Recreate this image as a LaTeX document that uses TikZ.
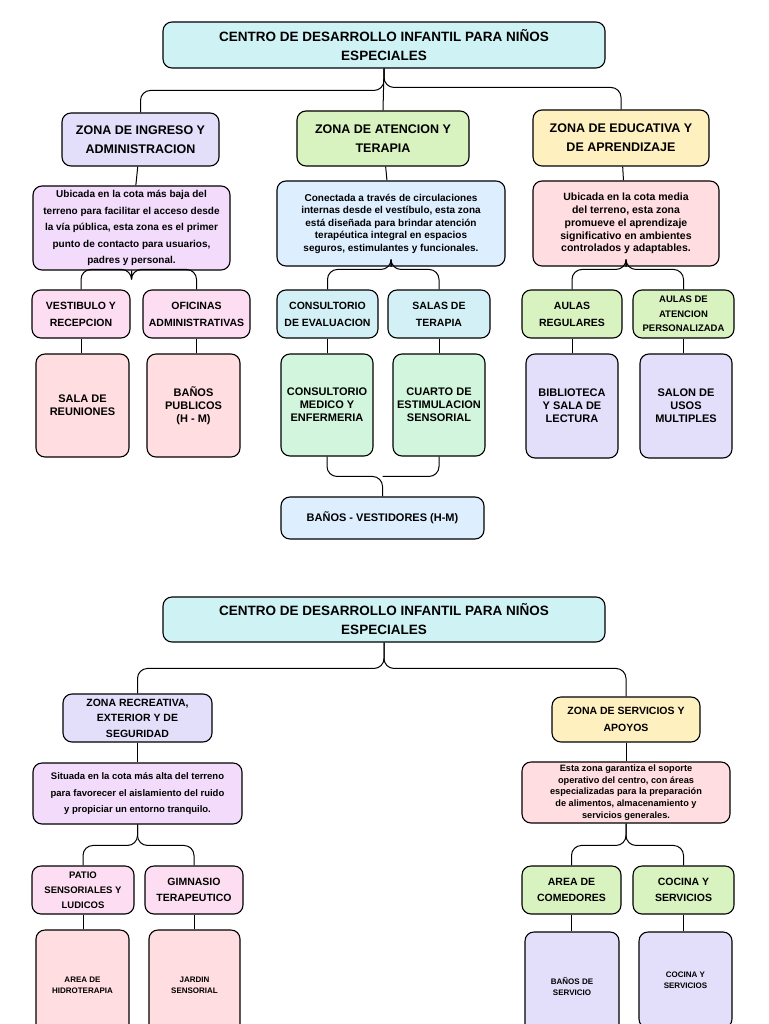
\documentclass[tikz,border=0pt]{standalone}
\usepackage{fontspec}
\setmainfont{Liberation Sans}
\usetikzlibrary{calc}
\definecolor{cCyan}{HTML}{CFF2F5}
\definecolor{cLav}{HTML}{E3DFFB}
\definecolor{cGreen}{HTML}{D8F2C0}
\definecolor{cYel}{HTML}{FFF0C0}
\definecolor{cPur}{HTML}{F3DBFB}
\definecolor{cBlue}{HTML}{DDEEFF}
\definecolor{cPink}{HTML}{FFDDE0}
\definecolor{cRose}{HTML}{FDDDF2}
\definecolor{cTeal}{HTML}{D2F0F5}
\definecolor{cMint}{HTML}{D2F6DD}
\tikzset{
 bx/.style={draw=black,line width=1.1pt,rounded corners=9pt,align=center,font=\bfseries,inner sep=1pt},
 conn/.style={draw=black,line width=1pt,rounded corners=10pt},
}
\newcommand{\bxat}[7]{\node[bx,fill=#6,minimum width={#3-#2},minimum height={#5-#4},font=\bfseries#7] (#1) at ({(#2+#3)/2},{(#4+#5)/2})}
\begin{document}
\begin{tikzpicture}[x=1pt,y=-1pt]
\path[use as bounding box,clip] (0,0) rectangle (768,1024);
\fill[white] (0,0) rectangle (768,1024);
% ---------- top section
\bxat{t1}{163}{605}{22}{68}{cCyan}{\fontsize{13.5}{19}\selectfont}{CENTRO DE DESARROLLO INFANTIL PARA NIÑOS\\ESPECIALES};
\bxat{z1}{62}{219}{113}{166}{cLav}{\fontsize{12.5}{19}\selectfont}{ZONA DE INGRESO Y\\ADMINISTRACION};
\bxat{z2}{297}{469}{111}{166}{cGreen}{\fontsize{12.5}{19}\selectfont}{ZONA DE ATENCION Y\\TERAPIA};
\bxat{z3}{533}{709}{110}{166}{cYel}{\fontsize{12.5}{19}\selectfont}{ZONA DE EDUCATIVA Y\\DE APRENDIZAJE};
\bxat{d1}{33}{230}{186}{270}{cPur}{\fontsize{10}{16.5}\selectfont}{Ubicada en la cota más baja del\\terreno para facilitar el acceso desde\\la vía pública, esta zona es el primer\\punto de contacto para usuarios,\\padres y personal.};
\bxat{d2}{277}{505}{181}{266}{cBlue}{\fontsize{10}{12.5}\selectfont}{Conectada a través de circulaciones\\internas desde el vestíbulo, esta zona\\está diseñada para brindar atención\\terapéutica integral en espacios\\seguros, estimulantes y funcionales.};
\bxat{d3}{533}{719}{181}{266}{cPink}{\fontsize{10.5}{12.8}\selectfont}{Ubicada en la cota media\\del terreno, esta zona\\promueve el aprendizaje\\significativo en ambientes\\controlados y adaptables.};
\bxat{a1}{32}{130}{290}{338}{cRose}{\fontsize{10.5}{17}\selectfont}{VESTIBULO Y\\RECEPCION};
\bxat{a2}{143}{250}{290}{338}{cRose}{\fontsize{10.5}{17}\selectfont}{OFICINAS\\ADMINISTRATIVAS};
\bxat{a3}{277}{378}{290}{338}{cTeal}{\fontsize{10.5}{17}\selectfont}{CONSULTORIO\\DE EVALUACION};
\bxat{a4}{388}{490}{290}{338}{cTeal}{\fontsize{10.5}{17}\selectfont}{SALAS DE\\TERAPIA};
\bxat{a5}{522}{622}{290}{338}{cGreen}{\fontsize{10.5}{17}\selectfont}{AULAS\\REGULARES};
\bxat{a6}{633}{734}{290}{338}{cGreen}{\fontsize{9.5}{14.5}\selectfont}{AULAS DE\\ATENCION\\PERSONALIZADA};
\bxat{b1}{36}{129}{354}{457}{cPink}{\fontsize{11}{13}\selectfont}{SALA DE\\REUNIONES};
\bxat{b2}{147}{240}{354}{457}{cPink}{\fontsize{11}{13}\selectfont}{BAÑOS\\PUBLICOS\\(H - M)};
\bxat{b3}{281}{373}{354}{456}{cMint}{\fontsize{11}{13}\selectfont}{CONSULTORIO\\MEDICO Y\\ENFERMERIA};
\bxat{b4}{393}{485}{354}{456}{cMint}{\fontsize{11}{13}\selectfont}{CUARTO DE\\ESTIMULACION\\SENSORIAL};
\bxat{b5}{526}{618}{354}{458}{cLav}{\fontsize{11}{13}\selectfont}{BIBLIOTECA\\Y SALA DE\\LECTURA};
\bxat{b6}{640}{732}{354}{458}{cLav}{\fontsize{11}{13}\selectfont}{SALON DE\\USOS\\MULTIPLES};
\bxat{v1}{281}{484}{497}{539}{cBlue}{\fontsize{11}{13}\selectfont}{BAÑOS - VESTIDORES (H-M)};
% connectors top
\path[conn] (t1.south) |- ([yshift=22]z1.north) -- (z1.north);
\path[conn] (t1.south) |- ([yshift=22]z3.north) -- (z3.north);
\path[conn] (t1.south) -- (z2.north);
\path[conn] (z1) -- (d1); \path[conn] (z2) -- (d2); \path[conn] (z3) -- (d3);
\foreach \p/\c in {d1/a1,d1/a2,d2/a3,d2/a4,d3/a5,d3/a6}
  \path[conn] (\p.south) |- ([yshift=20]\c.north) -- (\c.north);
\foreach \p/\c in {a1/b1,a2/b2,a3/b3,a4/b4,a5/b5,a6/b6}
  \path[conn] (\p.south) -- (\p.south|-\c.north);
\path[conn] (b3.south) |- ([yshift=20]v1.north) -- (v1.north);
\path[conn] (b4.south) |- ([yshift=20]v1.north);
% ---------- bottom section
\bxat{t2}{163}{605}{597}{642}{cCyan}{\fontsize{13.5}{19}\selectfont}{CENTRO DE DESARROLLO INFANTIL PARA NIÑOS\\ESPECIALES};
\bxat{y1}{63}{212}{694}{742}{cLav}{\fontsize{10.5}{15.5}\selectfont}{ZONA RECREATIVA,\\EXTERIOR Y DE\\SEGURIDAD};
\bxat{y2}{552}{700}{697}{742}{cYel}{\fontsize{10.5}{17}\selectfont}{ZONA DE SERVICIOS Y\\APOYOS};
\bxat{e1}{33}{242}{763}{824}{cPur}{\fontsize{9.5}{16.5}\selectfont}{Situada en la cota más alta del terreno\\para favorecer el aislamiento del ruido\\y propiciar un entorno tranquilo.};
\bxat{e2}{522}{730}{762}{823}{cPink}{\fontsize{9.2}{11.8}\selectfont}{Esta zona garantiza el soporte\\operativo del centro, con áreas\\especializadas para la preparación\\de alimentos, almacenamiento y\\servicios generales.};
\bxat{f1}{32}{134}{866}{914}{cRose}{\fontsize{9.5}{15}\selectfont}{PATIO\\SENSORIALES Y\\LUDICOS};
\bxat{f2}{145}{243}{866}{914}{cRose}{\fontsize{10.5}{16.5}\selectfont}{GIMNASIO\\TERAPEUTICO};
\bxat{f3}{522}{621}{866}{914}{cGreen}{\fontsize{10.5}{16.5}\selectfont}{AREA DE\\COMEDORES};
\bxat{f4}{633}{734}{866}{914}{cGreen}{\fontsize{10.5}{16.5}\selectfont}{COCINA Y\\SERVICIOS};
\bxat{g1}{36}{129}{930}{1040}{cPink}{\fontsize{8}{11}\selectfont}{AREA DE\\HIDROTERAPIA};
\bxat{g2}{149}{240}{930}{1040}{cPink}{\fontsize{8}{11}\selectfont}{JARDIN\\SENSORIAL};
\bxat{g3}{525}{619}{932}{1040}{cLav}{\fontsize{8}{11}\selectfont}{BAÑOS DE\\SERVICIO};
\bxat{g4}{639}{732}{932}{1028}{cLav}{\fontsize{8}{11}\selectfont}{COCINA Y\\SERVICIOS};
\path[conn] (t2.south) |- ([yshift=25]y1.north) -- (y1.north);
\path[conn] (t2.south) |- ([yshift=28]y2.north) -- (y2.north);
\path[conn] (y1) -- (e1); \path[conn] (y2) -- (e2);
\foreach \p/\c in {e1/f1,e1/f2,e2/f3,e2/f4}
  \path[conn] (\p.south) |- ([yshift=20]\c.north) -- (\c.north);
\foreach \p/\c in {f1/g1,f2/g2,f3/g3,f4/g4}
  \path[conn] (\p.south) -- (\p.south|-\c.north);
\end{tikzpicture}
\end{document}
